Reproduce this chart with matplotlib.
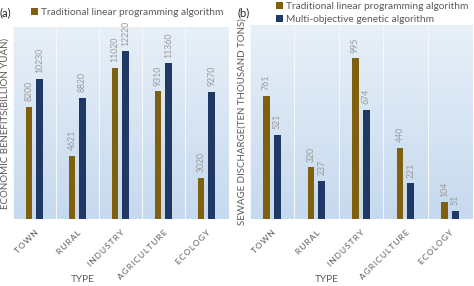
import numpy as np
import matplotlib.pyplot as plt
from matplotlib.colors import LinearSegmentedColormap

plt.rcParams['font.family'] = ['Lato', 'DejaVu Sans']

categories = ['TOWN', 'RURAL', 'INDUSTRY', 'AGRICULTURE', 'ECOLOGY']
econ_traditional = [8200, 4621, 11020, 9310, 3020]
econ_genetic = [10230, 8820, 12220, 11360, 9270]
sewage_traditional = [761, 320, 995, 440, 104]
sewage_genetic = [521, 237, 674, 221, 51]

gold = '#7f600e'
navy = '#1f3864'
label_gray = '#9a9a9a'
text_dark = '#5a5a5a'


def spaced(s):
    return '\u2009'.join(s)


def draw_panel(ax, trad, gen, ymax, ylabel):
    n = len(categories)
    x = np.arange(n)
    # gradient background like the Excel plot area
    grad = np.linspace(0, 1, 256).reshape(-1, 1)
    cm = LinearSegmentedColormap.from_list('bg', ['#e8f0f8', '#c6d9ee'])
    ax.imshow(grad, extent=(-0.5, n - 0.5, 0, ymax), aspect='auto', cmap=cm,
              origin='upper', zorder=0)
    for b in np.arange(n + 1) - 0.5:
        ax.axvline(b, color='#f4f8fc', lw=0.8, zorder=1)
    w = 0.15
    b1 = ax.bar(x - 0.125, trad, w, color=gold, zorder=2,
                label='Traditional linear programming algorithm')
    b2 = ax.bar(x + 0.12, gen, w, color=navy, zorder=2,
                label='Multi-objective genetic algorithm')
    for bars, vals in ((b1, trad), (b2, gen)):
        for r, v in zip(bars, vals):
            ax.annotate(str(v), (r.get_x() + r.get_width() / 2, v),
                        xytext=(0, 4), textcoords='offset points',
                        rotation=90, ha='center', va='bottom',
                        fontsize=6.3, color=label_gray)
    ax.set_xlim(-0.5, n - 0.5)
    ax.set_ylim(0, ymax)
    ax.set_yticks([])
    ax.set_xticks(x)
    ax.set_xticklabels([spaced(c) for c in categories], rotation=45,
                       ha='right', rotation_mode='anchor', fontsize=6.0,
                       color=text_dark)
    ax.tick_params(axis='x', length=0, pad=7)
    for s in ax.spines.values():
        s.set_visible(False)
    ax.set_ylabel(ylabel, fontsize=7, color=text_dark, labelpad=2)
    return b1, b2


fig = plt.figure(figsize=(4.74, 2.86), dpi=100)
ax1 = fig.add_axes([0.027, 0.234, 0.454, 0.672])
ax2 = fig.add_axes([0.527, 0.234, 0.469, 0.679])

t1, g1 = draw_panel(ax1, econ_traditional, econ_genetic, 14000,
                    'ECONOMIC BENEFITS(BILLION YUAN)')
t2, g2 = draw_panel(ax2, sewage_traditional, sewage_genetic, 1200,
                    'SEWAGE DISCHARGE(TEN THOUSAND TONS)')

ax1.legend(handles=[t1], loc='lower left', bbox_to_anchor=(0.065, 1.03),
           frameon=False, fontsize=7.3, handlelength=0.7, handleheight=0.7,
           handletextpad=0.3, borderaxespad=0, labelcolor=text_dark)
ax2.legend(handles=[t2, g2], loc='lower left', bbox_to_anchor=(0.1, 0.985),
           frameon=False, fontsize=7.3, handlelength=0.7, handleheight=0.7,
           handletextpad=0.3, borderaxespad=0, labelspacing=0.35,
           labelcolor=text_dark)

fig.text(0.0, 0.975, '(a)', fontsize=8, va='top', color='#222222')
fig.text(0.5, 0.975, '(b)', fontsize=8, va='top', color='#222222')

# axis titles sit left of centre, as in the source figure
fig.text(83 / 474, 1 - 280 / 286, 'TYPE', fontsize=7.3, color=text_dark,
         ha='center', va='center')
fig.text(327 / 474, 1 - 280 / 286, 'TYPE', fontsize=7.3, color=text_dark,
         ha='center', va='center')

fig.savefig('out.png', dpi=100)
